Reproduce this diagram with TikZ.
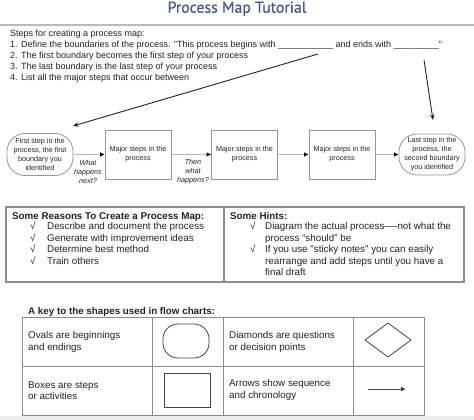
\documentclass[tikz,border=0pt]{standalone}
\usepackage{fontspec}
\setmainfont{Liberation Sans}[Ligatures=TeXOff]
\newfontfamily\titlefont{PT Sans}[FakeBold=0.6]
\usetikzlibrary{arrows.meta}
\definecolor{titleblue}{RGB}{72,86,136}
\definecolor{txt}{RGB}{35,35,35}
\definecolor{bord}{RGB}{150,150,150}
\definecolor{tbord}{RGB}{140,140,140}
\begin{document}
\begin{tikzpicture}[x=1pt,y=-1pt,
  line9/.style={anchor=base west,inner sep=0,font=\fontsize{9}{11}\selectfont,text=txt},
  line10/.style={anchor=base west,inner sep=0,font=\fontsize{9.8}{12}\selectfont,text=txt},
  flowbox/.style={draw=bord,line width=0.8,minimum width=66,minimum height=49,align=center,
    font=\fontsize{7.2}{9}\selectfont,inner sep=0,text=txt},
  ovalbox/.style={flowbox,minimum height=42,rounded corners=18},
  flowlbl/.style={align=center,inner sep=0,font=\fontsize{7.2}{9}\itshape,text=txt},
  flowarrow/.style={draw=gray!55,line width=0.8,-{Latex[length=4.5pt,width=4.5pt,color=black]}},
  longarrow/.style={draw=txt,line width=0.9,-{Stealth[length=5.5pt,width=4.5pt]}},
  tableline/.style={draw=tbord,line width=1.3},
  keyline/.style={draw=tbord,line width=0.9},
  keyshape/.style={draw=txt!85,line width=0.8}]
\useasboundingbox (0,0) rectangle (474,420);
\fill[white] (0,0) rectangle (474,420);
\fill[gray!15] (0,416) rectangle (474,420);
% title
\node[anchor=base,inner sep=0,font=\titlefont\fontsize{15.8}{18}\selectfont,text=titleblue] (title) at (237,12.7) {Process Map Tutorial};
\draw[gray!55,line width=1.5] (0,25) -- (474,25);
% steps
\node[line9] (s0) at (10,37) {Steps for creating a process map:};
\node[line9] (s1) at (10,48) {1. Define the boundaries of the process. "This process begins with \_\_\_\_\_\_\_\_\_\_\_ and ends with \_\_\_\_\_\_\_\_\_"};
\node[line9] (s2) at (10,59) {2. The first boundary becomes the first step of your process};
\node[line9] (s3) at (10,70) {3. The last boundary is the last step of your process};
\node[line9] (s4) at (10,81) {4. List all the major steps that occur between};
% flow row
\node[ovalbox] (o1) at (40,154.5) {First step in the\\process, the first\\boundary you\\identified};
\node[flowbox] (b1) at (138,154.5) {Major steps in the\\process};
\node[flowbox] (b2) at (244.5,154.5) {Major steps in the\\process};
\node[flowbox] (b3) at (342,154.5) {Major steps in the\\process};
\node[ovalbox,minimum height=41] (o2) at (432,154.5) {Last step in the\\process, the\\second boundary\\you identified};
\draw[flowarrow] (o1) -- (b1);
\draw[flowarrow] (b1) -- (b2);
\draw[flowarrow] (b2) -- (b3);
\draw[flowarrow] (b3) -- (o2);
\node[flowlbl] (l1) at (88,172) {What\\happens\\next?};
\node[flowlbl] (l2) at (193,172) {Then\\what\\happens?};
% long arrows
\coordinate (a1s) at (318,54);
\coordinate (a1e) at (73,126);
\coordinate (a2s) at (424,60);
\coordinate (a2e) at (433,120);
\draw[longarrow] (a1s) -- (a1e);
\draw[longarrow] (a2s) -- (a2e);
% reasons / hints table
\draw[tableline] (6,207) rectangle (464,282);
\draw[tableline] (224,207) -- (224,282);
\node[line10,font=\fontsize{9.8}{12}\bfseries] (rh) at (12,219) {Some Reasons To Create a Process Map:};
\node[line10] (rc1) at (30,229.5) {√};
\node[line10] (r1) at (47,229.5) {Describe and document the process};
\node[line10] (rc2) at (30,241) {√};
\node[line10] (r2) at (47,241) {Generate with improvement ideas};
\node[line10] (rc3) at (30,252.5) {√};
\node[line10] (r3) at (47,252.5) {Determine best method};
\node[line10] (rc4) at (30,264) {√};
\node[line10] (r4) at (47,264) {Train others};
\node[line10,font=\fontsize{9.8}{12}\bfseries] (hh) at (230,219) {Some Hints:};
\node[line10] (hc1) at (250,229.5) {√};
\node[line10] (h1) at (265,229.5) {Diagram the actual process—-not what the};
\node[line10] (h1b) at (265,241) {process “should” be};
\node[line10] (hc2) at (250,252.5) {√};
\node[line10] (h2) at (265,252.5) {If you use "sticky notes" you can easily};
\node[line10] (h2b) at (265,264) {rearrange and add steps until you have a};
\node[line10] (h2c) at (265,275.5) {final draft};
% key
\node[line10,font=\fontsize{9.8}{12}\bfseries] (kh) at (28,314) {A key to the shapes used in flow charts:};
\draw[keyline] (22,317) rectangle (424,415);
\draw[keyline] (22,366) -- (424,366);
\draw[keyline] (152,317) -- (152,415);
\draw[keyline] (223,317) -- (223,415);
\draw[keyline] (353,317) -- (353,415);
\node[line10] (k1) at (28,338) {Ovals are beginnings};
\node[line10] (k1b) at (28,350) {and endings};
\node[line10] (k2) at (229,338) {Diamonds are questions};
\node[line10] (k2b) at (229,350) {or decision points};
\node[line10] (k3) at (28,388) {Boxes are steps};
\node[line10] (k3b) at (28,399) {or activities};
\node[line10] (k4) at (229,386) {Arrows show sequence};
\node[line10] (k4b) at (229,398) {and chronology};
\draw[keyshape,rounded corners=15] (163,324) rectangle (209,358);
\draw[keyshape] (365,340) -- (388,323) -- (411,340) -- (388,357) -- cycle;
\draw[keyshape] (164,373) rectangle (210,407);
\coordinate (ka1) at (368,389);
\coordinate (ka2) at (406,389);
\draw[keyshape,line width=0.9,-{Latex[length=5pt,width=5pt]}] (ka1) -- (ka2);
\end{tikzpicture}
\end{document}
